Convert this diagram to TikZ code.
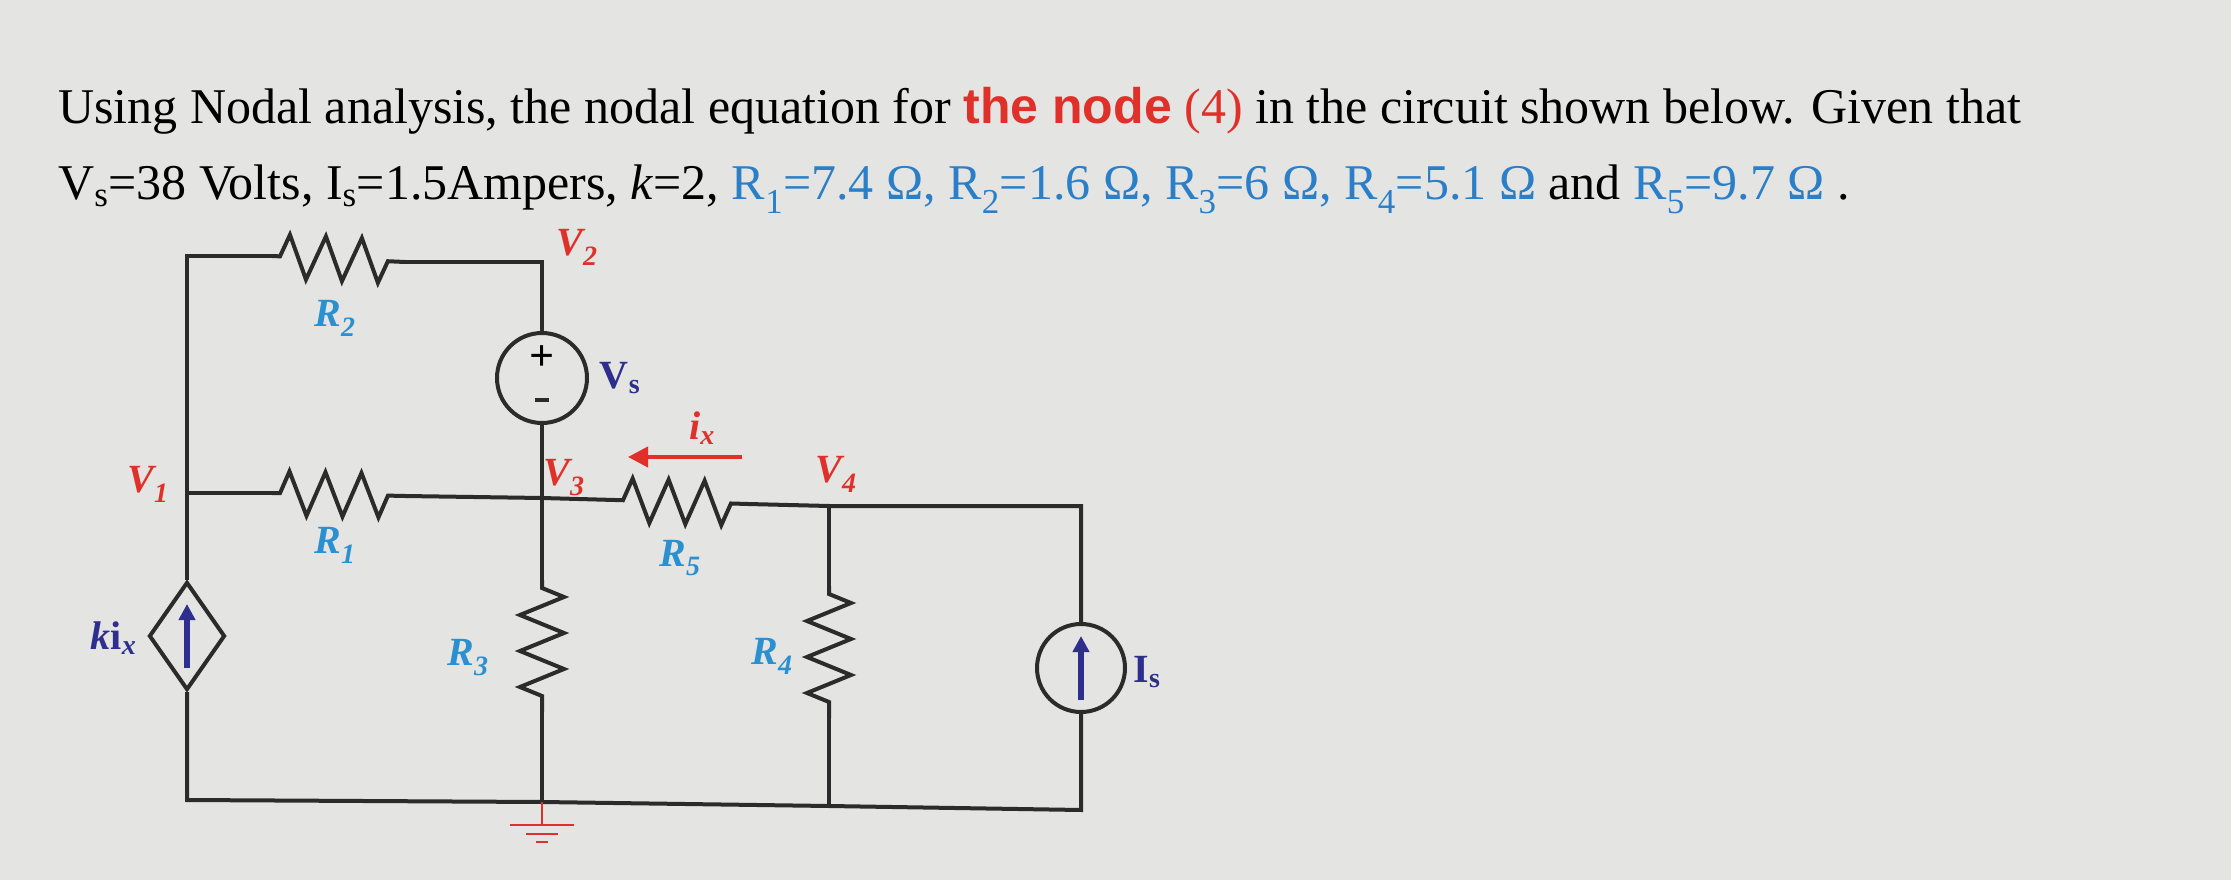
\documentclass[tikz,border=0pt]{standalone}
\usepackage{fontspec}
\setmainfont{Liberation Serif}
\newfontfamily\sansb{Liberation Sans}
\usetikzlibrary{decorations.pathmorphing,arrows.meta,shapes.geometric}
\definecolor{bg}{HTML}{E4E4E2}
\definecolor{wire}{HTML}{2B2B2B}
\definecolor{vred}{HTML}{E0302A}
\definecolor{rblue}{HTML}{2A90D0}
\definecolor{sblue}{HTML}{2E2E8E}
\definecolor{tblue}{HTML}{2A7FC8}
\tikzset{
  w/.style={line width=4pt,draw=wire},
  res/.style={w,decorate,decoration={zigzag,segment length=36pt,amplitude=22pt,pre length=8pt,post length=8pt}},
  vlab/.style={text=vred,font=\fontsize{40}{40}\selectfont\bfseries\itshape},
  rlab/.style={text=rblue,font=\fontsize{40}{40}\selectfont\bfseries\itshape},
  slab/.style={text=sblue,font=\fontsize{40}{40}\selectfont\bfseries},
  txt/.style={anchor=base west,font=\fontsize{50}{50}\selectfont,inner sep=0pt}
}
\begin{document}
\begin{tikzpicture}[x=1pt,y=-1pt]
\fill[bg] (0,0) rectangle (2231,880);
\useasboundingbox (0,0) rectangle (2231,880);
% text
\node[txt] (l1) at (58,124) {Using Nodal analysis, the nodal equation for {\sansb\bfseries\color{vred}the node} {\color{vred}(4)} in the circuit shown below. Given that};
\node[txt] (l2) at (58,199) {V\textsubscript{s}=38 Volts, I\textsubscript{s}=1.5Ampers, \textit{k}=2, {\color{tblue}R\textsubscript{1}=7.4 Ω, R\textsubscript{2}=1.6 Ω, R\textsubscript{3}=6 Ω, R\textsubscript{4}=5.1 Ω} and {\color{tblue}R\textsubscript{5}=9.7 Ω} .};
% coordinates
\coordinate (tl) at (187,256);
\coordinate (r2a) at (272,256);
\coordinate (r2b) at (405,262);
\coordinate (v2) at (542,262);
\coordinate (v1) at (187,493);
\coordinate (r1a) at (272,493);
\coordinate (r1b) at (405,496);
\coordinate (v3) at (542,498);
\coordinate (r5a) at (615,500);
\coordinate (r5b) at (748,504);
\coordinate (v4) at (829,506);
\coordinate (tr) at (1081,506);
\coordinate (r3a) at (542,580);
\coordinate (r3b) at (542,712);
\coordinate (r4a) at (829,586);
\coordinate (r4b) at (829,718);
\coordinate (bl) at (187,800);
\coordinate (g) at (542,802);
\coordinate (b4) at (829,806);
\coordinate (br) at (1081,810);
% sources
\node[circle,w,minimum size=90pt,inner sep=0pt,fill=bg] (vs) at (542,378) {};
\node[font=\fontsize{44}{44}\selectfont\bfseries] at (542,358) {+};
\draw[w,line width=4pt] (535,400) -- (549,400);
\node[diamond,w,minimum width=76pt,minimum height=108pt,inner sep=0pt,fill=bg] (dep) at (187,636) {};
\draw[sblue,line width=6pt,-{Triangle[length=16pt,width=16pt]}] (187,668) -- (187,604);
\node[circle,w,minimum size=88pt,inner sep=0pt,fill=bg] (is) at (1081,668) {};
\draw[sblue,line width=6pt,-{Triangle[length=16pt,width=16pt]}] (1081,700) -- (1081,636);
% wires
\draw[w] (r2a) -- (tl) -- (v1) -- (dep.north);
\draw[res] (r2a) -- (r2b);
\draw[w] (r2b) -- (v2) -- (vs.north);
\draw[w] (vs.south) -- (v3) -- (r3a);
\draw[w] (v1) -- (r1a);
\draw[res] (r1a) -- (r1b);
\draw[w] (r1b) -- (v3) -- (r5a);
\draw[res] (r5a) -- (r5b);
\draw[w] (r5b) -- (v4) -- (tr) -- (is.north);
\draw[w] (v4) -- (r4a);
\draw[res] (r3a) -- (r3b);
\draw[res] (r4a) -- (r4b);
\draw[w] (r3b) -- (g);
\draw[w] (r4b) -- (b4);
\draw[w] (dep.south) -- (bl) -- (g) -- (b4) -- (br) -- (is.south);
% ground
\draw[vred,line width=2.5pt] (g) -- (542,825);
\draw[vred,line width=2.5pt] (510,825) -- (574,825);
\draw[vred,line width=2.5pt] (526,834) -- (558,834);
\draw[vred,line width=2.5pt] (536,842) -- (548,842);
% ix arrow
\coordinate (ixa) at (742,457);
\coordinate (ixb) at (628,457);
\draw[vred,line width=4pt,-{Triangle[length=20pt,width=20pt]}] (ixa) -- (ixb);
% labels
\node[vlab] at (577,247) {V\textsubscript{2}};
\node[vlab] at (148,484) {V\textsubscript{1}};
\node[vlab] at (564,478) {V\textsubscript{3}};
\node[vlab] at (836,474) {V\textsubscript{4}};
\node[vlab] at (702,428) {i\textsubscript{x}};
\node[rlab] at (335,318) {R\textsubscript{2}};
\node[rlab] at (335,545) {R\textsubscript{1}};
\node[rlab] at (680,558) {R\textsubscript{5}};
\node[rlab] at (468,658) {R\textsubscript{3}};
\node[rlab] at (772,656) {R\textsubscript{4}};
\node[slab] at (620,378) {V\textsubscript{s}};
\node[slab] at (1147,672) {I\textsubscript{s}};
\node[slab,anchor=east] at (140,638) {\itshape k\upshape i\textsubscript{\itshape x}};
\end{tikzpicture}
\end{document}
